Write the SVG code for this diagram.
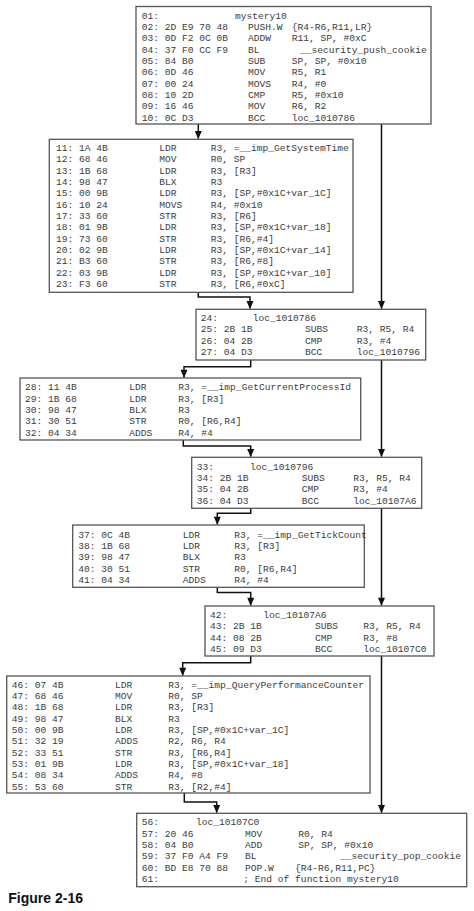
<svg xmlns="http://www.w3.org/2000/svg" width="474" height="911" viewBox="0 0 474 911">
<style>
.box{fill:#fff;stroke:#555;stroke-width:1.3}
.t{font-family:"Liberation Mono","DejaVu Sans Mono",monospace;font-size:9.6px;fill:#3c3c3c}
.c{fill:none;stroke:#111;stroke-width:1.5}
.fig{font-family:"Liberation Sans",Arial,sans-serif;font-weight:bold;font-size:14px;fill:#111}
</style>
<rect width="474" height="911" fill="#fff"/>
<g id="connectors">
<path class="c" d="M198.3,124 V138.5"/>
<path class="c" d="M198.3,292.3 V297 H250 V308.5"/>
<path class="c" d="M381.5,124 V308.5"/>
<path class="c" d="M250.7,360 V366.7 H184 V377.3"/>
<path class="c" d="M183.3,440 V446 H250.7 V456.5"/>
<path class="c" d="M381.5,360 V456.5"/>
<path class="c" d="M250.7,508.3 V513.3 H217.3 V524.3"/>
<path class="c" d="M217.3,587.3 V592.5 H250.7 V605.3"/>
<path class="c" d="M381.5,508.3 V605.3"/>
<path class="c" d="M250.7,656 V662.7 H182.7 V675.3"/>
<path class="c" d="M184.3,793 V802 H216.7 V812.6"/>
<path class="c" d="M381.5,656 V812.6"/>
<g fill="#111">
<path d="M194.8,131 L201.8,131 L198.3,139.3 Z"/>
<path d="M246.5,301 L253.5,301 L250,309.3 Z"/>
<path d="M378,301 L385,301 L381.5,309.3 Z"/>
<path d="M180.5,369.7 L187.5,369.7 L184,378 Z"/>
<path d="M247.2,449 L254.2,449 L250.7,457.3 Z"/>
<path d="M378,449 L385,449 L381.5,457.3 Z"/>
<path d="M213.8,516.7 L220.8,516.7 L217.3,525 Z"/>
<path d="M247.2,597.7 L254.2,597.7 L250.7,606 Z"/>
<path d="M378,597.7 L385,597.7 L381.5,606 Z"/>
<path d="M179.2,667.7 L186.2,667.7 L182.7,676 Z"/>
<path d="M213.2,805 L220.2,805 L216.7,813.3 Z"/>
<path d="M378,805 L385,805 L381.5,813.3 Z"/>
</g>
</g>
<g id="block1">
<rect class="box" x="136" y="6.5" width="295" height="117.5"/>
<text class="t" y="18.5"><tspan x="141.7">01:</tspan><tspan x="235">mystery10</tspan></text>
<text class="t" y="29.85"><tspan x="141.7">02: 2D E9 70 48</tspan><tspan x="248">PUSH.W</tspan><tspan x="291.7">{R4-R6,R11,LR}</tspan></text>
<text class="t" y="41.2"><tspan x="141.7">03: 0D F2 0C 0B</tspan><tspan x="248">ADDW</tspan><tspan x="291.7">R11, SP, #0xC</tspan></text>
<text class="t" y="52.55"><tspan x="141.7">04: 37 F0 CC F9</tspan><tspan x="248">BL</tspan><tspan x="300">__security_push_cookie</tspan></text>
<text class="t" y="63.9"><tspan x="141.7">05: 84 B0</tspan><tspan x="248">SUB</tspan><tspan x="291.7">SP, SP, #0x10</tspan></text>
<text class="t" y="75.25"><tspan x="141.7">06: 0D 46</tspan><tspan x="248">MOV</tspan><tspan x="291.7">R5, R1</tspan></text>
<text class="t" y="86.6"><tspan x="141.7">07: 00 24</tspan><tspan x="248">MOVS</tspan><tspan x="291.7">R4, #0</tspan></text>
<text class="t" y="97.95"><tspan x="141.7">08: 10 2D</tspan><tspan x="248">CMP</tspan><tspan x="291.7">R5, #0x10</tspan></text>
<text class="t" y="109.3"><tspan x="141.7">09: 16 46</tspan><tspan x="248">MOV</tspan><tspan x="291.7">R6, R2</tspan></text>
<text class="t" y="120.65"><tspan x="141.7">10: 0C D3</tspan><tspan x="248">BCC</tspan><tspan x="291.7">loc_1010786</tspan></text>
</g>
<g id="block2">
<rect class="box" x="49.3" y="139.3" width="303.7" height="153"/>
<text class="t" y="150.8"><tspan x="56">11: 1A 4B</tspan><tspan x="159.3">LDR</tspan><tspan x="210.7">R3, =__imp_GetSystemTime</tspan></text>
<text class="t" y="162.15"><tspan x="56">12: 68 46</tspan><tspan x="159.3">MOV</tspan><tspan x="210.7">R0, SP</tspan></text>
<text class="t" y="173.5"><tspan x="56">13: 1B 68</tspan><tspan x="159.3">LDR</tspan><tspan x="210.7">R3, [R3]</tspan></text>
<text class="t" y="184.85"><tspan x="56">14: 98 47</tspan><tspan x="159.3">BLX</tspan><tspan x="210.7">R3</tspan></text>
<text class="t" y="196.2"><tspan x="56">15: 00 9B</tspan><tspan x="159.3">LDR</tspan><tspan x="210.7">R3, [SP,#0x1C+var_1C]</tspan></text>
<text class="t" y="207.55"><tspan x="56">16: 10 24</tspan><tspan x="159.3">MOVS</tspan><tspan x="210.7">R4, #0x10</tspan></text>
<text class="t" y="218.9"><tspan x="56">17: 33 60</tspan><tspan x="159.3">STR</tspan><tspan x="210.7">R3, [R6]</tspan></text>
<text class="t" y="230.25"><tspan x="56">18: 01 9B</tspan><tspan x="159.3">LDR</tspan><tspan x="210.7">R3, [SP,#0x1C+var_18]</tspan></text>
<text class="t" y="241.6"><tspan x="56">19: 73 60</tspan><tspan x="159.3">STR</tspan><tspan x="210.7">R3, [R6,#4]</tspan></text>
<text class="t" y="252.95"><tspan x="56">20: 02 9B</tspan><tspan x="159.3">LDR</tspan><tspan x="210.7">R3, [SP,#0x1C+var_14]</tspan></text>
<text class="t" y="264.3"><tspan x="56">21: B3 60</tspan><tspan x="159.3">STR</tspan><tspan x="210.7">R3, [R6,#8]</tspan></text>
<text class="t" y="275.65"><tspan x="56">22: 03 9B</tspan><tspan x="159.3">LDR</tspan><tspan x="210.7">R3, [SP,#0x1C+var_10]</tspan></text>
<text class="t" y="287"><tspan x="56">23: F3 60</tspan><tspan x="159.3">STR</tspan><tspan x="210.7">R3, [R6,#0xC]</tspan></text>
</g>
<g id="block3">
<rect class="box" x="196" y="309.3" width="229.7" height="50.7"/>
<text class="t" y="320.8"><tspan x="200.7">24:</tspan><tspan x="252.7">loc_1010786</tspan></text>
<text class="t" y="332.15"><tspan x="200.7">25: 2B 1B</tspan><tspan x="305">SUBS</tspan><tspan x="356.7">R3, R5, R4</tspan></text>
<text class="t" y="343.5"><tspan x="200.7">26: 04 2B</tspan><tspan x="305">CMP</tspan><tspan x="356.7">R3, #4</tspan></text>
<text class="t" y="354.85"><tspan x="200.7">27: 04 D3</tspan><tspan x="305">BCC</tspan><tspan x="356.7">loc_1010796</tspan></text>
</g>
<g id="block4">
<rect class="box" x="20" y="378" width="340.7" height="62"/>
<text class="t" y="390.2"><tspan x="25">28: 11 4B</tspan><tspan x="129.3">LDR</tspan><tspan x="178.3">R3, =__imp_GetCurrentProcessId</tspan></text>
<text class="t" y="401.55"><tspan x="25">29: 1B 68</tspan><tspan x="129.3">LDR</tspan><tspan x="178.3">R3, [R3]</tspan></text>
<text class="t" y="412.9"><tspan x="25">30: 98 47</tspan><tspan x="129.3">BLX</tspan><tspan x="178.3">R3</tspan></text>
<text class="t" y="424.25"><tspan x="25">31: 30 51</tspan><tspan x="129.3">STR</tspan><tspan x="178.3">R0, [R6,R4]</tspan></text>
<text class="t" y="435.6"><tspan x="25">32: 04 34</tspan><tspan x="129.3">ADDS</tspan><tspan x="178.3">R4, #4</tspan></text>
</g>
<g id="block5">
<rect class="box" x="191.7" y="457.3" width="230" height="51"/>
<text class="t" y="469.5"><tspan x="196.7">33:</tspan><tspan x="250">loc_1010796</tspan></text>
<text class="t" y="480.85"><tspan x="196.7">34: 2B 1B</tspan><tspan x="301.7">SUBS</tspan><tspan x="353.3">R3, R5, R4</tspan></text>
<text class="t" y="492.2"><tspan x="196.7">35: 04 2B</tspan><tspan x="301.7">CMP</tspan><tspan x="353.3">R3, #4</tspan></text>
<text class="t" y="503.55"><tspan x="196.7">36: 04 D3</tspan><tspan x="301.7">BCC</tspan><tspan x="353.3">loc_10107A6</tspan></text>
</g>
<g id="block6">
<rect class="box" x="72.7" y="525" width="291.6" height="62.3"/>
<text class="t" y="537.5"><tspan x="78.3">37: 0C 4B</tspan><tspan x="182.7">LDR</tspan><tspan x="234.3">R3, =__imp_GetTickCount</tspan></text>
<text class="t" y="548.85"><tspan x="78.3">38: 1B 68</tspan><tspan x="182.7">LDR</tspan><tspan x="234.3">R3, [R3]</tspan></text>
<text class="t" y="560.2"><tspan x="78.3">39: 98 47</tspan><tspan x="182.7">BLX</tspan><tspan x="234.3">R3</tspan></text>
<text class="t" y="571.55"><tspan x="78.3">40: 30 51</tspan><tspan x="182.7">STR</tspan><tspan x="234.3">R0, [R6,R4]</tspan></text>
<text class="t" y="582.9"><tspan x="78.3">41: 04 34</tspan><tspan x="182.7">ADDS</tspan><tspan x="234.3">R4, #4</tspan></text>
</g>
<g id="block7">
<rect class="box" x="205" y="606" width="229" height="50"/>
<text class="t" y="617.8"><tspan x="210">42:</tspan><tspan x="263.3">loc_10107A6</tspan></text>
<text class="t" y="629.15"><tspan x="210">43: 2B 1B</tspan><tspan x="315">SUBS</tspan><tspan x="363.3">R3, R5, R4</tspan></text>
<text class="t" y="640.5"><tspan x="210">44: 08 2B</tspan><tspan x="315">CMP</tspan><tspan x="363.3">R3, #8</tspan></text>
<text class="t" y="651.85"><tspan x="210">45: 09 D3</tspan><tspan x="315">BCC</tspan><tspan x="363.3">loc_10107C0</tspan></text>
</g>
<g id="block8">
<rect class="box" x="6.7" y="676" width="363.3" height="117"/>
<text class="t" y="687.5"><tspan x="11.7">46: 07 4B</tspan><tspan x="115">LDR</tspan><tspan x="168.3">R3, =__imp_QueryPerformanceCounter</tspan></text>
<text class="t" y="698.85"><tspan x="11.7">47: 68 46</tspan><tspan x="115">MOV</tspan><tspan x="168.3">R0, SP</tspan></text>
<text class="t" y="710.2"><tspan x="11.7">48: 1B 68</tspan><tspan x="115">LDR</tspan><tspan x="168.3">R3, [R3]</tspan></text>
<text class="t" y="721.55"><tspan x="11.7">49: 98 47</tspan><tspan x="115">BLX</tspan><tspan x="168.3">R3</tspan></text>
<text class="t" y="732.9"><tspan x="11.7">50: 00 9B</tspan><tspan x="115">LDR</tspan><tspan x="168.3">R3, [SP,#0x1C+var_1C]</tspan></text>
<text class="t" y="744.25"><tspan x="11.7">51: 32 19</tspan><tspan x="115">ADDS</tspan><tspan x="168.3">R2, R6, R4</tspan></text>
<text class="t" y="755.6"><tspan x="11.7">52: 33 51</tspan><tspan x="115">STR</tspan><tspan x="168.3">R3, [R6,R4]</tspan></text>
<text class="t" y="766.95"><tspan x="11.7">53: 01 9B</tspan><tspan x="115">LDR</tspan><tspan x="168.3">R3, [SP,#0x1C+var_18]</tspan></text>
<text class="t" y="778.3"><tspan x="11.7">54: 08 34</tspan><tspan x="115">ADDS</tspan><tspan x="168.3">R4, #8</tspan></text>
<text class="t" y="789.65"><tspan x="11.7">55: 53 60</tspan><tspan x="115">STR</tspan><tspan x="168.3">R3, [R2,#4]</tspan></text>
</g>
<g id="block9">
<rect class="box" x="136.7" y="813.3" width="330" height="73.4"/>
<text class="t" y="825.2"><tspan x="141.7">56:</tspan><tspan x="196">loc_10107C0</tspan></text>
<text class="t" y="836.55"><tspan x="141.7">57: 20 46</tspan><tspan x="245">MOV</tspan><tspan x="298.3">R0, R4</tspan></text>
<text class="t" y="847.9"><tspan x="141.7">58: 04 B0</tspan><tspan x="245">ADD</tspan><tspan x="298.3">SP, SP, #0x10</tspan></text>
<text class="t" y="859.25"><tspan x="141.7">59: 37 F0 A4 F9</tspan><tspan x="245">BL</tspan><tspan x="340">__security_pop_cookie</tspan></text>
<text class="t" y="870.6"><tspan x="141.7">60: BD E8 70 88</tspan><tspan x="245">POP.W</tspan><tspan x="295">{R4-R6,R11,PC}</tspan></text>
<text class="t" y="881.95"><tspan x="141.7">61:</tspan><tspan x="243.3">; End of function mystery10</tspan></text>
</g>
<text class="fig" x="8.3" y="903">Figure 2-16</text>
</svg>
